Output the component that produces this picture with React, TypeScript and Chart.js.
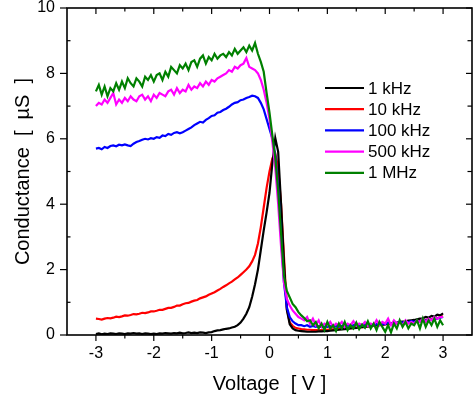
import React, { useEffect, useRef } from "react";
import { Chart, registerables } from "chart.js";

Chart.register(...registerables);

const voltage = [
  -3, -2.95, -2.9, -2.85, -2.8, -2.75, -2.7, -2.65, -2.6, -2.55,
  -2.5, -2.45, -2.4, -2.35, -2.3, -2.25, -2.2, -2.15, -2.1, -2.05,
  -2, -1.95, -1.9, -1.85, -1.8, -1.75, -1.7, -1.65, -1.6, -1.55,
  -1.5, -1.45, -1.4, -1.35, -1.3, -1.25, -1.2, -1.15, -1.1, -1.05,
  -1, -0.95, -0.9, -0.85, -0.8, -0.75, -0.7, -0.65, -0.6, -0.55,
  -0.5, -0.45, -0.4, -0.35, -0.3, -0.25, -0.2, -0.15, -0.1, -0.05,
  0, 0.05, 0.1, 0.15, 0.2, 0.25, 0.3, 0.35, 0.4, 0.45,
  0.5, 0.55, 0.6, 0.65, 0.7, 0.75, 0.8, 0.85, 0.9, 0.95,
  1, 1.05, 1.1, 1.15, 1.2, 1.25, 1.3, 1.35, 1.4, 1.45,
  1.5, 1.55, 1.6, 1.65, 1.7, 1.75, 1.8, 1.85, 1.9, 1.95,
  2, 2.05, 2.1, 2.15, 2.2, 2.25, 2.3, 2.35, 2.4, 2.45,
  2.5, 2.55, 2.6, 2.65, 2.7, 2.75, 2.8, 2.85, 2.9, 2.95,
  3,
];

const g1kHz = [
  0.03, 0.05, 0.02, 0.04, 0.03, 0.05, 0.04, 0.03, 0.05, 0.04,
  0.03, 0.05, 0.04, 0.06, 0.04, 0.05, 0.03, 0.05, 0.04, 0.03,
  0.04, 0.03, 0.05, 0.04, 0.06, 0.05, 0.04, 0.06, 0.05, 0.07,
  0.05, 0.06, 0.08, 0.06, 0.07, 0.06, 0.08, 0.07, 0.06, 0.08,
  0.09, 0.12, 0.14, 0.15, 0.17, 0.19, 0.2, 0.23, 0.25, 0.3,
  0.38, 0.5, 0.65, 0.85, 1.17, 1.55, 2.0, 2.6, 3.2, 3.75,
  4.35, 5.26, 6.02, 5.6, 4.0, 2.2, 0.77, 0.33, 0.2, 0.15,
  0.13, 0.12, 0.11, 0.1, 0.1, 0.1, 0.1, 0.11, 0.11, 0.12,
  0.12, 0.13, 0.14, 0.15, 0.16, 0.17, 0.18, 0.19, 0.2, 0.21,
  0.22, 0.23, 0.24, 0.25, 0.26, 0.27, 0.28, 0.3, 0.31, 0.32,
  0.33, 0.35, 0.36, 0.37, 0.38, 0.4, 0.41, 0.42, 0.44, 0.45,
  0.46, 0.48, 0.5, 0.51, 0.55, 0.53, 0.58, 0.56, 0.62, 0.6,
  0.66,
];

const g10kHz = [
  0.5, 0.49, 0.47, 0.5, 0.52, 0.51, 0.53, 0.56, 0.55, 0.57,
  0.6, 0.59, 0.61, 0.64, 0.63, 0.65, 0.68, 0.67, 0.69, 0.72,
  0.72, 0.74, 0.77, 0.77, 0.8, 0.83, 0.83, 0.86, 0.9, 0.9,
  0.94, 0.97, 0.98, 1.02, 1.05, 1.07, 1.12, 1.15, 1.18, 1.23,
  1.27, 1.31, 1.36, 1.41, 1.47, 1.52, 1.58, 1.63, 1.7, 1.76,
  1.84, 1.92, 2.0, 2.1, 2.25, 2.45, 2.8, 3.3, 3.9, 4.5,
  5.0, 5.4, 5.55, 5.1, 4.0, 2.4, 0.8, 0.38, 0.28, 0.22,
  0.2, 0.18, 0.17, 0.16, 0.16, 0.15, 0.15, 0.15, 0.15, 0.16,
  0.16, 0.17, 0.17, 0.18, 0.18, 0.19, 0.2, 0.2, 0.21, 0.22,
  0.23, 0.24, 0.24, 0.25, 0.26, 0.27, 0.28, 0.29, 0.3, 0.31,
  0.32, 0.34, 0.33, 0.36, 0.35, 0.38, 0.37, 0.4, 0.39, 0.42,
  0.41, 0.44, 0.43, 0.46, 0.45, 0.49, 0.48, 0.52, 0.51, 0.55,
  0.57,
];

const g100kHz = [
  5.7, 5.72, 5.68, 5.75, 5.72, 5.78, 5.8, 5.77, 5.82, 5.8,
  5.83, 5.8, 5.78, 5.85, 5.9, 5.93, 5.97, 6.0, 5.98, 6.02,
  6.0, 6.05, 6.03, 6.1, 6.08, 6.15, 6.12, 6.18, 6.2, 6.17,
  6.2, 6.25, 6.3, 6.35, 6.42, 6.47, 6.52, 6.5, 6.58, 6.63,
  6.7, 6.72, 6.8, 6.82, 6.88, 6.92, 6.98, 7.05, 7.1, 7.12,
  7.18, 7.2, 7.25, 7.28, 7.32, 7.3, 7.25, 7.1, 6.9, 6.6,
  6.3, 6.0, 5.5, 4.5, 3.0, 1.6, 0.85, 0.55, 0.42, 0.35,
  0.3, 0.3, 0.27, 0.3, 0.25, 0.28, 0.25, 0.27, 0.24, 0.26,
  0.25, 0.27, 0.24, 0.27, 0.25, 0.28, 0.26, 0.29, 0.27, 0.3,
  0.28, 0.3, 0.28, 0.31, 0.3, 0.32, 0.3, 0.33, 0.31, 0.34,
  0.33, 0.38, 0.35, 0.37, 0.36, 0.4, 0.38, 0.4, 0.39, 0.42,
  0.4, 0.43, 0.42, 0.45, 0.44, 0.47, 0.46, 0.5, 0.5, 0.53,
  0.55,
];

const g500kHz = [
  7.0, 7.1, 7.05, 7.2, 7.1, 7.25, 7.4, 7.05, 7.2, 7.1,
  7.25, 7.15, 7.3, 7.2, 7.15, 7.3, 7.35, 7.2, 7.3, 7.15,
  7.35, 7.25, 7.4, 7.35, 7.3, 7.45, 7.5, 7.35, 7.55, 7.4,
  7.5, 7.45, 7.65, 7.5, 7.6, 7.55, 7.7, 7.6, 7.75, 7.65,
  7.8, 7.75, 7.85, 7.9, 7.95, 8.0, 8.1, 8.05, 8.2, 8.15,
  8.25, 8.3, 8.47, 8.2, 8.15, 8.1, 8.0, 7.8, 7.5, 7.1,
  6.6, 5.9, 5.1, 4.0, 2.7, 1.6, 1.1, 0.9, 0.75, 0.65,
  0.55, 0.5, 0.45, 0.55, 0.35, 0.5, 0.3, 0.45, 0.25, 0.35,
  0.3, 0.4, 0.25, 0.35, 0.3, 0.4, 0.25, 0.35, 0.3, 0.42,
  0.28, 0.35, 0.3, 0.4, 0.28, 0.35, 0.3, 0.45, 0.3, 0.4,
  0.35, 0.5, 0.3, 0.45, 0.35, 0.4, 0.3, 0.45, 0.35, 0.4,
  0.35, 0.45, 0.4, 0.5, 0.4, 0.5, 0.45, 0.55, 0.5, 0.55,
  0.55,
];

const g1MHz = [
  7.45, 7.65, 7.35, 7.6, 7.3, 7.55, 7.45, 7.7, 7.5, 7.75,
  7.55, 7.85, 7.7, 7.6, 7.85, 7.75, 7.6, 7.9, 7.8, 7.95,
  7.75, 7.95, 8.0, 7.8, 8.05, 7.9, 8.2, 8.1, 8.0, 8.25,
  8.15, 8.3, 8.1, 8.35, 8.4, 8.2, 8.45, 8.55, 8.3, 8.5,
  8.4, 8.6, 8.45, 8.55, 8.6, 8.5, 8.65, 8.55, 8.75, 8.6,
  8.7, 8.8, 8.65, 8.85, 8.7, 8.93, 8.6, 8.35, 8.05, 7.4,
  6.8, 6.1, 5.4, 4.4, 3.1, 1.8, 1.35, 1.15, 0.95, 0.85,
  0.7, 0.6, 0.52, 0.42, 0.45, 0.3, 0.4, 0.2, 0.35, 0.15,
  0.4, 0.2, 0.3, 0.12, 0.35, 0.2, 0.4, 0.15, 0.3, 0.2,
  0.38, 0.18, 0.32, 0.22, 0.42, 0.2, 0.35, 0.15, 0.4, 0.25,
  0.1, 0.3, 0.08, 0.35, 0.2, 0.45, 0.25, 0.4, 0.2, 0.35,
  0.3, 0.45, 0.2, 0.5, 0.25, 0.45, 0.3, 0.5, 0.25, 0.45,
  0.3,
];

const seriesLabels = ["1 kHz", "10 kHz", "100 kHz", "500 kHz", "1 MHz"];
const seriesColors = ["#000000", "#ff0000", "#0000ff", "#ff00ff", "#008000"];
const seriesData = [g1kHz, g10kHz, g100kHz, g500kHz, g1MHz];
const seriesOrder = [3, 4, 2, 1, 0];

const xTickValues = [-3, -2, -1, 0, 1, 2, 3];
const xMinorValues = [-2.5, -1.5, -0.5, 0.5, 1.5, 2.5];
const yTickValues = [0, 2, 4, 6, 8, 10];
const yMinorValues = [1, 3, 5, 7, 9];
const xTitle = "Voltage  [ V ]";
const yTitle = "Conductance  [  \u00b5S  ]";

const FONT = "'Liberation Sans', Arial, Helvetica, sans-serif";

const frameTicksPlugin = {
  id: "frameTicks",
  afterDraw(chart: any) {
    const { ctx, chartArea: a, scales } = chart;
    const x = scales.x;
    const y = scales.y;
    ctx.save();
    ctx.strokeStyle = "#000";
    ctx.lineWidth = 1.6;
    ctx.strokeRect(a.left, a.top, a.right - a.left, a.bottom - a.top);
    ctx.lineWidth = 1.2;
    const seg = (x1: number, y1: number, x2: number, y2: number) => {
      ctx.beginPath();
      ctx.moveTo(x1, y1);
      ctx.lineTo(x2, y2);
      ctx.stroke();
    };
    for (const v of xTickValues) {
      const px = x.getPixelForValue(v);
      seg(px, a.bottom, px, a.bottom + 6);
      seg(px, a.top, px, a.top + 6);
    }
    for (const v of xMinorValues) {
      const px = x.getPixelForValue(v);
      seg(px, a.bottom, px, a.bottom + 3.5);
      seg(px, a.top, px, a.top + 3.5);
    }
    for (const v of yTickValues) {
      const py = y.getPixelForValue(v);
      seg(a.left - 7, py, a.left, py);
      seg(a.right - 6, py, a.right, py);
    }
    for (const v of yMinorValues) {
      const py = y.getPixelForValue(v);
      seg(a.left, py, a.left + 3.5, py);
      seg(a.right - 4.5, py, a.right, py);
    }
    ctx.restore();
  },
};

const legendPlugin = {
  id: "insetLegend",
  afterDraw(chart: any) {
    const { ctx } = chart;
    ctx.save();
    ctx.font = `17px ${FONT}`;
    ctx.textBaseline = "middle";
    ctx.textAlign = "left";
    chart.data.datasets.forEach((ds: any, i: number) => {
      const yy = 88 + i * 21.2;
      ctx.strokeStyle = ds.borderColor;
      ctx.lineWidth = 2.2;
      ctx.beginPath();
      ctx.moveTo(325, yy);
      ctx.lineTo(364, yy);
      ctx.stroke();
      ctx.fillStyle = "#000";
      ctx.fillText(ds.label, 368, yy + 1);
    });
    ctx.restore();
  },
};

export default function App() {
  const canvasRef = useRef<HTMLCanvasElement | null>(null);

  useEffect(() => {
    const canvas = canvasRef.current;
    if (!canvas) return;
    Chart.defaults.font.family = FONT;
    const chart = new Chart(canvas, {
      type: "line",
      data: {
        datasets: seriesLabels.map((label, k) => ({
          label,
          data: voltage.map((v, i) => ({ x: v, y: seriesData[k][i] })),
          borderColor: seriesColors[k],
          backgroundColor: seriesColors[k],
          borderWidth: 2.2,
          pointRadius: 0,
          tension: 0,
          fill: false,
          order: seriesOrder[k],
        })),
      },
      options: {
        animation: false,
        responsive: false,
        events: [],
        layout: { padding: { left: 0, right: 2, top: 8, bottom: 0 } },
        plugins: {
          legend: { display: false },
          tooltip: { enabled: false },
        },
        scales: {
          x: {
            type: "linear",
            min: -3.5,
            max: 3.5,
            grid: { display: false, drawTicks: false },
            border: { display: false },
            afterBuildTicks: (s: any) => {
              s.ticks = xTickValues.map((v) => ({ value: v }));
            },
            afterFit: (s: any) => {
              s.height = 62;
              s.paddingLeft = 0;
              s.paddingRight = 0;
            },
            ticks: {
              color: "#000",
              font: { size: 16 },
              padding: 9,
              maxRotation: 0,
              autoSkip: false,
              callback: (v: any) => String(v),
            },
            title: {
              display: true,
              text: xTitle,
              color: "#000",
              font: { size: 20 },
              padding: { top: 0, bottom: 1 },
            },
          },
          y: {
            type: "linear",
            min: 0,
            max: 10,
            grid: { display: false, drawTicks: false },
            border: { display: false },
            afterBuildTicks: (s: any) => {
              s.ticks = yTickValues.map((v) => ({ value: v }));
            },
            afterFit: (s: any) => {
              s.width = 67;
              s.paddingTop = 0;
              s.paddingBottom = 0;
            },
            ticks: {
              color: "#000",
              font: { size: 16 },
              padding: 12,
              autoSkip: false,
              callback: (v: any) => String(v),
            },
            title: {
              display: true,
              text: yTitle,
              color: "#000",
              font: { size: 20 },
              padding: { top: 11, bottom: 0 },
            },
          },
        },
      },
      plugins: [frameTicksPlugin, legendPlugin],
    } as any);
    return () => chart.destroy();
  }, []);

  return (
    <div style={{ position: "absolute", left: 0, top: 0, width: 474, height: 397, background: "#fff" }}>
      <canvas ref={canvasRef} width={474} height={397} style={{ display: "block", width: 474, height: 397 }} />
    </div>
  );
}
